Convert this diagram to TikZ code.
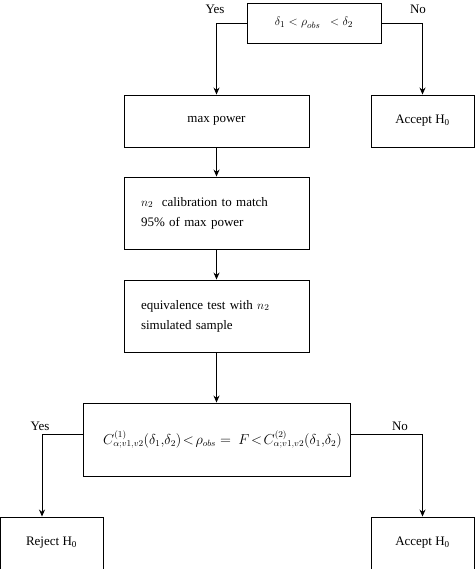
\documentclass[tikz,border=0pt]{standalone}
\usepackage{fontspec}
\setmainfont{Liberation Serif}
\usetikzlibrary{arrows.meta}
\begin{document}
\begin{tikzpicture}[x=1pt,y=-1pt,
  every node/.style={font=\fontsize{13}{20}\selectfont},
  box/.style={draw,line width=0.9pt,rectangle,inner sep=0pt,minimum width=#1},
  arr/.style={line width=0.9pt,-{Stealth[length=7pt,width=6pt]}},
  lbl/.style={font=\fontsize{13}{14}\selectfont}]
\useasboundingbox (0,0) rectangle (474,569);
\node[box=134,minimum height=40] (top) at (314,23) {$\delta_1 < \rho_{obs}\ \ < \delta_2$};
\node[box=185,minimum height=52] (max) at (216.5,121) {max power};
\node[box=103,minimum height=52] (acc1) at (422.5,121) {Accept H\textsubscript{0}};
\node[box=185,minimum height=72,text width=151pt,inner xsep=17pt,align=left] (cal) at (216.5,213) {$n_2$\ \ calibration to match\\95\% of max power};
\node[box=185,minimum height=72,text width=151pt,inner xsep=17pt,align=left] (eq) at (216.5,316) {equivalence test with $n_2$\\simulated sample};
\node[box=267,minimum height=73,font=\fontsize{13.5}{16}\selectfont] (big) at (216.5,439.5) {\hspace*{12pt}$C^{(1)}_{\alpha;v1,v2}(\delta_1,\!\delta_2)\!<\!\rho_{obs}=\ F\!<\!C^{(2)}_{\alpha;v1,v2}(\delta_1,\!\delta_2)$};
\node[box=103,minimum height=52] (rej) at (51.5,543) {Reject H\textsubscript{0}};
\node[box=103,minimum height=52] (acc2) at (422.5,543) {Accept H\textsubscript{0}};
\node[lbl] (yes1) at (215,9) {Yes};
\node[lbl] (no1) at (418,9) {No};
\node[lbl] (yes2) at (40,426) {Yes};
\node[lbl] (no2) at (400,426) {No};
\draw[arr] (top.west) -| (max.north);
\draw[arr] (top.east) -| (acc1.north);
\draw[arr] (max) -- (cal);
\draw[arr] (cal) -- (eq);
\draw[arr] (eq) -- (big);
\draw[arr] ([yshift=5.5]big.west) -| ([xshift=-9.5]rej.north);
\draw[arr] ([yshift=5.5]big.east) -| (acc2.north);
\end{tikzpicture}
\end{document}
